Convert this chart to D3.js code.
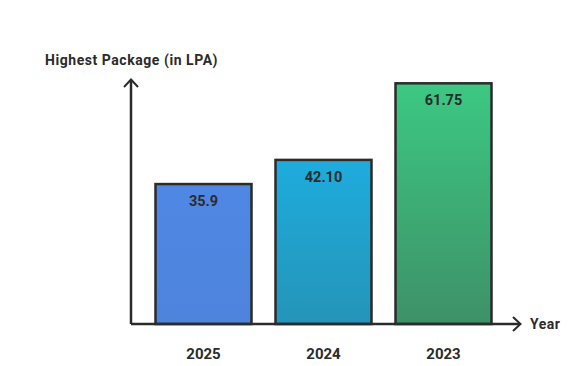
<!DOCTYPE html>
<html>
<head>
<meta charset="utf-8">
<script src="https://cdn.jsdelivr.net/npm/d3@7"></script>
<style>
  body { margin: 0; background: #fff; }
  text { font-family: Roboto, "Noto Sans", sans-serif; font-weight: 700; fill: #2b2b2b; }
</style>
</head>
<body>
<script>
// data
var years = ["2025", "2024", "2023"];
var packages = [35.9, 42.10, 61.75];
var valueLabels = ["35.9", "42.10", "61.75"];
var topColors = ["#4f87e4", "#1eacdd", "#3cc883"];
var bottomColors = ["#4e84dc", "#2594b8", "#3e9167"];

var width = 570,
    height = 366,
    baseY = 324,
    axisX = 131;

var svg = d3.select("body").append("svg")
    .attr("width", width)
    .attr("height", height);

var x = d3.scaleBand()
    .domain(years)
    .range([143.5, 503.5])
    .paddingInner(0.2)
    .paddingOuter(0.1);

var y = d3.scaleLinear()
    .domain([0, 62.6])
    .range([baseY, 80]);

// gradients for each bar
var defs = svg.append("defs");
years.forEach(function(yr, i) {
    var g = defs.append("linearGradient")
        .attr("id", "grad" + i)
        .attr("x1", 0).attr("y1", 0).attr("x2", 0).attr("y2", 1);
    g.append("stop").attr("offset", "0%").attr("stop-color", topColors[i]);
    g.append("stop").attr("offset", "100%").attr("stop-color", bottomColors[i]);
});

// bars
svg.append("g")
    .selectAll("rect")
    .data(packages)
    .enter()
    .append("rect")
    .attr("x", function(d, i) { return x(years[i]); })
    .attr("y", function(d) { return y(d); })
    .attr("width", x.bandwidth())
    .attr("height", function(d) { return baseY - y(d); })
    .style("fill", function(d, i) { return "url(#grad" + i + ")"; })
    .style("stroke", "#2b2b2b")
    .style("stroke-width", 2.5);

// values inside bars
svg.append("g")
    .selectAll("text")
    .data(packages)
    .enter()
    .append("text")
    .attr("x", function(d, i) { return x(years[i]) + x.bandwidth() / 2; })
    .attr("y", function(d) { return y(d) + 22; })
    .attr("text-anchor", "middle")
    .style("font-size", "14.5px")
    .text(function(d, i) { return valueLabels[i]; });

// axes with arrows
var axisColor = "#2b2b2b";
svg.append("line")
    .attr("x1", axisX).attr("y1", baseY)
    .attr("x2", axisX).attr("y2", 80)
    .style("stroke", axisColor).style("stroke-width", 2.5);
svg.append("path")
    .attr("d", "M" + (axisX - 7) + "," + 87 + "L" + axisX + "," + 79.5 + "L" + (axisX + 7) + "," + 87)
    .style("fill", "none").style("stroke", axisColor).style("stroke-width", 2);

svg.append("line")
    .attr("x1", axisX).attr("y1", baseY)
    .attr("x2", 520).attr("y2", baseY)
    .style("stroke", axisColor).style("stroke-width", 2.5);
svg.append("path")
    .attr("d", "M" + 513 + "," + (baseY - 7) + "L" + 520.5 + "," + baseY + "L" + 513 + "," + (baseY + 7))
    .style("fill", "none").style("stroke", axisColor).style("stroke-width", 2);

// year labels
svg.append("g")
    .selectAll("text")
    .data(years)
    .enter()
    .append("text")
    .attr("x", function(d) { return x(d) + x.bandwidth() / 2; })
    .attr("y", 359)
    .attr("text-anchor", "middle")
    .style("font-size", "15px")
    .text(function(d) { return d; });

// axis titles
svg.append("text")
    .attr("x", 45)
    .attr("y", 65)
    .style("font-size", "14px")
    .style("letter-spacing", "0.55px")
    .text("Highest Package (in LPA)");

svg.append("text")
    .attr("x", 530)
    .attr("y", 329)
    .style("font-size", "14px")
    .style("letter-spacing", "0.5px")
    .text("Year");
</script>
</body>
</html>
